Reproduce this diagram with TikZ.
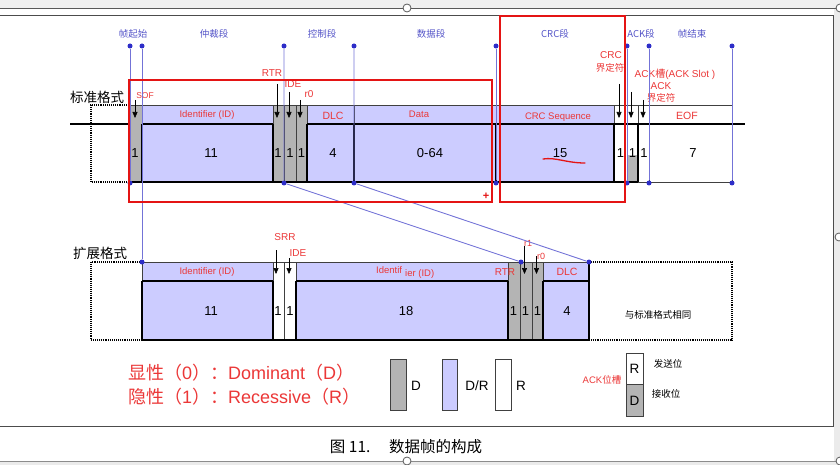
\documentclass[tikz,border=0pt]{standalone}
\usepackage{fontspec}
\setmainfont{Liberation Sans}
\newfontfamily\cjk{Noto Sans CJK SC}
\usetikzlibrary{arrows.meta}
\definecolor{fblue}{RGB}{204,204,255}
\definecolor{fgray}{RGB}{180,180,180}
\definecolor{lred}{RGB}{235,55,55}
\definecolor{hblue}{RGB}{85,85,200}
\definecolor{lblue}{RGB}{115,115,215}
\definecolor{dblue}{RGB}{45,45,200}
\definecolor{annred}{RGB}{228,20,20}
\begin{document}
\begin{tikzpicture}[x=1pt,y=-1pt,
  cell/.style={draw=black!75, line width=0.6pt},
  tk/.style={line width=1.9pt, black},
  dotbox/.style={line width=2.2pt, dash pattern=on 1pt off 0.9pt},
  bline/.style={lblue, line width=0.9pt},
  bdot/.style={circle, fill=dblue, inner sep=0pt, minimum size=5pt},
  darr/.style={-{Triangle[width=5pt,length=6pt]}, line width=0.6pt},
  lab/.style={lred, font=\fontsize{9.5}{10}\selectfont, inner sep=0pt},
  num/.style={font=\fontsize{13}{14}\selectfont, inner sep=0pt},
  hdr/.style={hblue, font=\cjk\fontsize{9.5}{10}\selectfont, inner sep=0pt},
  ttl/.style={font=\cjk\fontsize{13.5}{14}\selectfont, inner sep=0pt},
  leg/.style={lred, font=\fontsize{18}{20}\selectfont, inner sep=0pt, anchor=west},
  small/.style={font=\cjk\fontsize{9.5}{10}\selectfont, inner sep=0pt},
  ann/.style={annred, line width=1.8pt},
  handle/.style={circle, draw=black!65, fill=white, line width=0.8pt, minimum size=8pt, inner sep=0pt}
]
\useasboundingbox (0,0) rectangle (840,465);
% ---------- page chrome ----------
\fill[black!6] (0,0) rectangle (840,8);
\fill[black!8] (834,8) rectangle (840,465);
\fill[black!8] (0,461) rectangle (840,465);
\draw[black!65, line width=0.8pt] (0,8) -- (840,8);
\draw[black!70, line width=0.8pt] (0,15) -- (833,15) -- (833,426) -- (0,426);
\draw[black!45, line width=0.8pt] (0,461) -- (840,461);
\node[handle] (h1) at (407,8) {};
\node[handle] (h2) at (840,8) {};
\node[handle] (h3) at (839,237) {};
\node[handle] (h4) at (407,461) {};
\node[handle] (h5) at (840,461) {};

% ---------- section headers ----------
\node[hdr] (s1) at (133,34) {帧起始};
\node[hdr] (s2) at (214,34) {仲裁段};
\node[hdr] (s3) at (322,34) {控制段};
\node[hdr] (s4) at (431,34) {数据段};
\node[hdr] (s5) at (555,34) {CRC段};
\node[hdr] (s6) at (641,34) {ACK段};
\node[hdr] (s7) at (692,34) {帧结束};

% ---------- standard format ----------
\node[ttl] (std) at (97,97) {标准格式};
\draw[dotbox] (129,105) -- (91,105) -- (91,182) -- (129,182);
\draw[tk] (70,124) -- (129,124);
\draw[cell, fill=fgray] (129,105) rectangle (142,182);
\draw[cell, fill=fblue] (142,105) rectangle (273,182);
\draw[cell, fill=fgray] (273,105) rectangle (284.5,182);
\draw[cell, fill=fgray] (284.5,105) rectangle (296,182);
\draw[cell, fill=fgray] (296,105) rectangle (307,182);
\draw[cell, fill=fblue] (307,105) rectangle (354,182);
\draw[cell, fill=fblue] (354,105) rectangle (496,182);
\draw[cell, fill=fblue] (496,105) rectangle (614,182);
\draw[cell, fill=white] (614,105) rectangle (627,182);
\draw[cell, fill=white] (627,105) rectangle (638,182);
\fill[fgray] (627.3,155) rectangle (637.7,182);
\draw[cell, fill=white] (638,105) rectangle (649,182);
\draw[cell, fill=white] (649,105) rectangle (732,182);
% thick outlines of lower row
\draw[tk] (142,124) -- (273,124);
\draw[tk] (307,124) -- (745,124);
\draw[tk] (129,182) -- (638,182);
\foreach \xx in {142,273,307,354,496,614,638} \draw[tk] (\xx,124) -- (\xx,182);

% labels
\node[lab, font=\fontsize{8.5}{9}\selectfont] (lsof) at (145,96) {SOF};
\node[lab, font=\fontsize{10}{11}\selectfont] (lrtr) at (272,73) {RTR};
\node[lab, font=\fontsize{10}{11}\selectfont] (lide) at (293,84) {IDE};
\node[lab, font=\fontsize{10}{11}\selectfont] (lr0) at (309,94) {r0};
\node[lab] (lid) at (207,115) {Identifier (ID)};
\node[lab, font=\fontsize{10.5}{11}\selectfont] (ldlc) at (333,116) {DLC};
\node[lab] (ldata) at (419,114) {Data};
\node[lab] (lcrc) at (558,117) {CRC Sequence};
\node[lab, font=\fontsize{10.5}{11}\selectfont] (leof) at (687,116) {EOF};
\node[lab, font=\fontsize{10}{11}\selectfont] (lcrcd) at (611,55) {CRC};
\node[lab, font=\cjk\fontsize{9.5}{10}\selectfont] (lcrcd2) at (610,68) {界定符};
\node[lab, font=\fontsize{10}{11}\selectfont] (lack) at (675,74) {ACK{\cjk 槽}(ACK Slot )};
\node[lab, font=\fontsize{10}{11}\selectfont] (lackd) at (661,86) {ACK};
\node[lab, font=\cjk\fontsize{9.5}{10}\selectfont] (lackd2) at (661,98) {界定符};

% arrows
\draw[darr] (135,100) -- (135,118);
\draw[darr] (277,84) -- (277,118);
\draw[darr] (289,92) -- (289,118);
\draw[darr] (300,100) -- (300,118);
\draw[darr] (619,84) -- (619,118);
\draw[darr] (631,92) -- (631,118);
\draw[darr] (643,100) -- (643,118);

% numbers
\node[num] (n1) at (135,153) {1};
\node[num] (n2) at (211,153) {11};
\node[num] (n3) at (278,153) {1};
\node[num] (n4) at (290,153) {1};
\node[num] (n5) at (301.5,153) {1};
\node[num] (n6) at (333,153) {4};
\node[num] (n7) at (430,153) {0-64};
\node[num] (n8) at (560,153) {15};
\node[num] (n9) at (620.5,153) {1};
\node[num] (n10) at (632.5,153) {1};
\node[num] (n11) at (644,153) {1};
\node[num] (n12) at (693,153) {7};

% ---------- extended format ----------
\node[ttl] (ext) at (100,253) {扩展格式};
\draw[dotbox] (142,262) -- (91,262) -- (91,340) -- (142,340);
\draw[cell, fill=fblue] (142,262) rectangle (273,340);
\draw[cell, fill=white] (273,262) rectangle (284.5,340);
\draw[cell, fill=white] (284.5,262) rectangle (296,340);
\draw[cell, fill=fblue] (296,262) rectangle (508,340);
\draw[cell, fill=fgray] (508,262) rectangle (520,340);
\draw[cell, fill=fgray] (520,262) rectangle (532,340);
\draw[cell, fill=fgray] (532,262) rectangle (543,340);
\draw[cell, fill=fblue] (543,262) rectangle (589,340);
\draw[dotbox] (589,262) rectangle (732,340);
\draw[tk] (142,281) -- (273,281);
\draw[tk] (296,281) -- (508,281);
\draw[tk] (543,281) -- (589,281);
\draw[tk] (142,340) -- (589,340);
\foreach \xx in {142,273,296,508,543} \draw[tk] (\xx,281) -- (\xx,340);
\draw[tk] (589,262) -- (589,340);

\node[lab] (eid) at (207,272) {Identifier (ID)};
\node[lab, anchor=west] (eid2a) at (376,270) {Identif};
\node[lab, anchor=west] (eid2b) at (405,274) {ier (ID)};
\node[lab, font=\fontsize{10}{11}\selectfont] (ertr) at (505,272) {RTR};
\node[lab, font=\fontsize{10.5}{11}\selectfont] (edlc) at (567,272) {DLC};
\node[lab, font=\fontsize{10}{11}\selectfont] (esrr) at (285,237) {SRR};
\node[lab, font=\fontsize{10}{11}\selectfont] (eide) at (298,253) {IDE};
\node[lab, font=\fontsize{9}{10}\selectfont] (er1) at (528,243) {r1};
\node[lab, font=\fontsize{9}{10}\selectfont] (er0) at (541,256) {r0};
\draw[darr] (276,250) -- (276,274);
\draw[darr] (289,258) -- (289,274);
\draw[darr] (524.5,246) -- (524.5,274);
\draw[darr] (536.5,256) -- (536.5,274);

\node[num] (m1) at (211,311) {11};
\node[num] (m2) at (278,311) {1};
\node[num] (m3) at (290,311) {1};
\node[num] (m4) at (406,311) {18};
\node[num] (m5) at (513.5,311) {1};
\node[num] (m6) at (525.5,311) {1};
\node[num] (m7) at (537.5,311) {1};
\node[num] (m8) at (567,311) {4};
\node[small] (same) at (658,315) {与标准格式相同};

% ---------- blue guide lines ----------
\node[bdot] (t1) at (130,46) {};
\node[bdot] (t2) at (142,46) {};
\node[bdot] (t3) at (284,46) {};
\node[bdot] (t4) at (354,46) {};
\node[bdot] (t5) at (496,46) {};
\node[bdot] (t6) at (627,46) {};
\node[bdot] (t7) at (649,46) {};
\node[bdot] (t8) at (732,46) {};
\node[bdot] (b1) at (130,183) {};
\node[bdot] (b3) at (284,183) {};
\node[bdot] (b4) at (354,183) {};
\node[bdot] (b5) at (496,183) {};
\node[bdot] (b6) at (627,183) {};
\node[bdot] (b7) at (649,183) {};
\node[bdot] (b8) at (732,183) {};
\node[bdot] (e2) at (142,262) {};
\node[bdot] (e3) at (521,262) {};
\node[bdot] (e4) at (589,262) {};
\draw[bline] (t1) -- (b1);
\draw[bline] (t2) -- (e2);
\draw[bline] (t3) -- (b3) -- (e3);
\draw[bline] (t4) -- (b4) -- (e4);
\draw[bline] (t5) -- (b5);
\draw[bline] (t6) -- (b6);
\draw[bline] (t7) -- (b7);
\draw[bline] (t8) -- (b8);

% ---------- red annotations ----------
\draw[ann] (129,80) rectangle (492,202);
\draw[ann] (500,16) rectangle (625,202);
\node[annred, font=\fontsize{11}{12}\selectfont\bfseries, inner sep=0pt] (plus) at (486,196) {+};
\draw[annred, line width=1.3pt, line cap=round] (543,159) .. controls (556,157) and (566,163) .. (585,163);

% ---------- legend ----------
\node[leg] (leg1) at (128,373) {{\cjk 显性（}0{\cjk ）：}Dominant{\cjk （}D{\cjk ）}};
\node[leg] (leg2) at (128,397) {{\cjk 隐性（}1{\cjk ）：}Recessive{\cjk （}R{\cjk ）}};
\draw[cell, fill=fgray] (390,359) rectangle (406,410);
\node[num, font=\fontsize{13.5}{14}\selectfont, anchor=west] (kd) at (411,386) {D};
\draw[cell, fill=fblue] (442,359) rectangle (457,410);
\node[num, font=\fontsize{13.5}{14}\selectfont] (kdr) at (477,386) {D/R};
\draw[cell, fill=white] (495,359) rectangle (511,410);
\node[num, font=\fontsize{13.5}{14}\selectfont] (kr) at (521,386) {R};
\node[lab, font=\fontsize{9.5}{10}\selectfont] (ackslot) at (602,380) {ACK{\cjk 位槽}};
\draw[cell, fill=white] (626,353) rectangle (643,384);
\draw[cell, fill=fgray] (626,384) rectangle (643,416);
\node[num, font=\fontsize{13.5}{14}\selectfont] (ar) at (634.5,369) {R};
\node[num, font=\fontsize{13.5}{14}\selectfont] (ad) at (634.5,401) {D};
\node[small] (send) at (668,364) {发送位};
\node[small] (recv) at (666,394) {接收位};

% ---------- caption ----------
\node[font=\cjk\fontsize{15.5}{16}\selectfont, inner sep=0pt] (cap) at (406,447) {图 11.\hspace{1.2em}数据帧的构成};
\end{tikzpicture}
\end{document}
